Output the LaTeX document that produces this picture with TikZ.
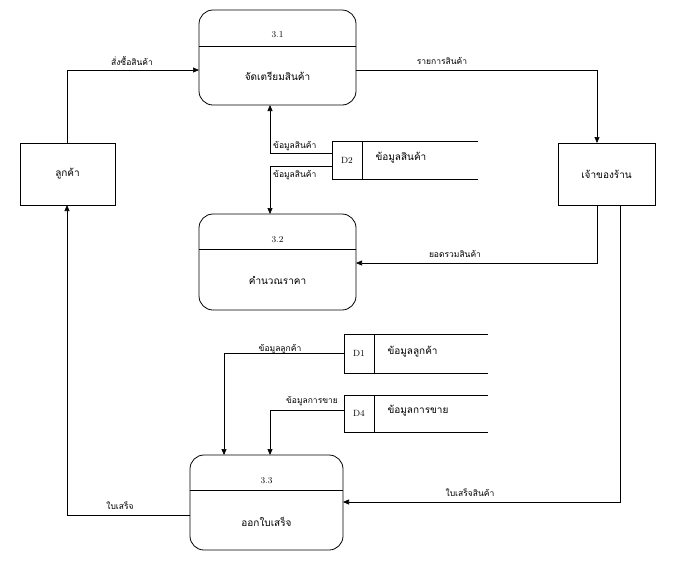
\documentclass[tikz,border=0pt]{standalone}
\usepackage{fontspec}
\newfontfamily\thaifont[Script=Thai]{Loma}
\usetikzlibrary{arrows.meta}
\begin{document}
\begin{tikzpicture}[x=1pt,y=-1pt,
  proc/.style={draw,rounded corners=14pt,line width=0.8pt},
  ext/.style={draw,line width=0.6pt},
  flow/.style={line width=0.6pt,-{Triangle[length=6pt,width=5pt]}},
  lbl/.style={font=\thaifont\fontsize{8.5}{10}\selectfont,inner sep=1pt},
  txt/.style={font=\thaifont\fontsize{10}{12}\selectfont},
  num/.style={font=\fontsize{9}{11}\selectfont}]
\useasboundingbox (0,0) rectangle (682,574);
% processes
\draw[proc] (199,10) rectangle (356,105); \draw (199,46) -- (356,46);
\node[num] (p1n) at (277.5,35) {3.1}; \node[txt] (p1t) at (277.5,76) {จัดเตรียมสินค้า};
\coordinate (p1) at (277.5,57);
\draw[proc] (199,214) rectangle (356,310); \draw (199,249) -- (356,249);
\node[num] (p2n) at (277.5,240) {3.2}; \node[txt] (p2t) at (277.5,280) {คำนวณราคา};
\draw[proc] (190,455) rectangle (343,550); \draw (190,490) -- (343,490);
\node[num] (p3n) at (266.5,481) {3.3}; \node[txt] (p3t) at (266.5,522) {ออกใบเสร็จ};
% externals
\node[ext,minimum width=95pt,minimum height=62pt,txt] (cust) at (67.5,174) {ลูกค้า};
\node[ext,minimum width=97pt,minimum height=62pt,txt] (own) at (606.5,174) {เจ้าของร้าน};
% stores
\draw (478,141) -- (332,141) -- (332,179) -- (478,179); \draw (362,141) -- (362,179);
\node[num] (d2n) at (347,160) {D2}; \node[txt,anchor=west] (d2t) at (372,158) {ข้อมูลสินค้า};
\draw (488,334) -- (344,334) -- (344,373) -- (488,373); \draw (374,334) -- (374,373);
\node[num] (d1n) at (359,353.5) {D1}; \node[txt,anchor=west] (d1t) at (384,352) {ข้อมูลลูกค้า};
\draw (488,395) -- (344,395) -- (344,432) -- (488,432); \draw (374,395) -- (374,432);
\node[num] (d4n) at (359,413.5) {D4}; \node[txt,anchor=west] (d4t) at (384,411) {ข้อมูลการขาย};
% flows
\draw[flow] (67,143) -- (67,70) -- (199,70);
\node[lbl] (l1) at (132,61) {สั่งซื้อสินค้า};
\draw[flow] (356,70) -- (597,70) -- (597,143);
\node[lbl] (l2) at (442,61) {รายการสินค้า};
\draw[flow] (332,153) -- (270,153) -- (270,105);
\node[lbl,anchor=south west] (l3) at (272,152) {ข้อมูลสินค้า};
\draw[flow] (332,166) -- (270,166) -- (270,214);
\node[lbl,anchor=north west] (l4) at (272,169) {ข้อมูลสินค้า};
\draw[flow] (597,205) -- (597,263) -- (356,263);
\node[lbl] (l5) at (455,254) {ยอดรวมสินค้า};
\draw[flow] (344,353) -- (224,353) -- (224,455);
\node[lbl] (l6) at (280,349) {ข้อมูลลูกค้า};
\draw[flow] (344,410) -- (270,410) -- (270,455);
\node[lbl] (l7) at (312,401) {ข้อมูลการขาย};
\draw[flow] (620,205) -- (620,502) -- (343,502);
\node[lbl] (l8) at (470,493) {ใบเสร็จสินค้า};
\draw[flow] (190,515) -- (67,515) -- (67,205);
\node[lbl] (l9) at (120,506) {ใบเสร็จ};
\end{tikzpicture}
\end{document}
